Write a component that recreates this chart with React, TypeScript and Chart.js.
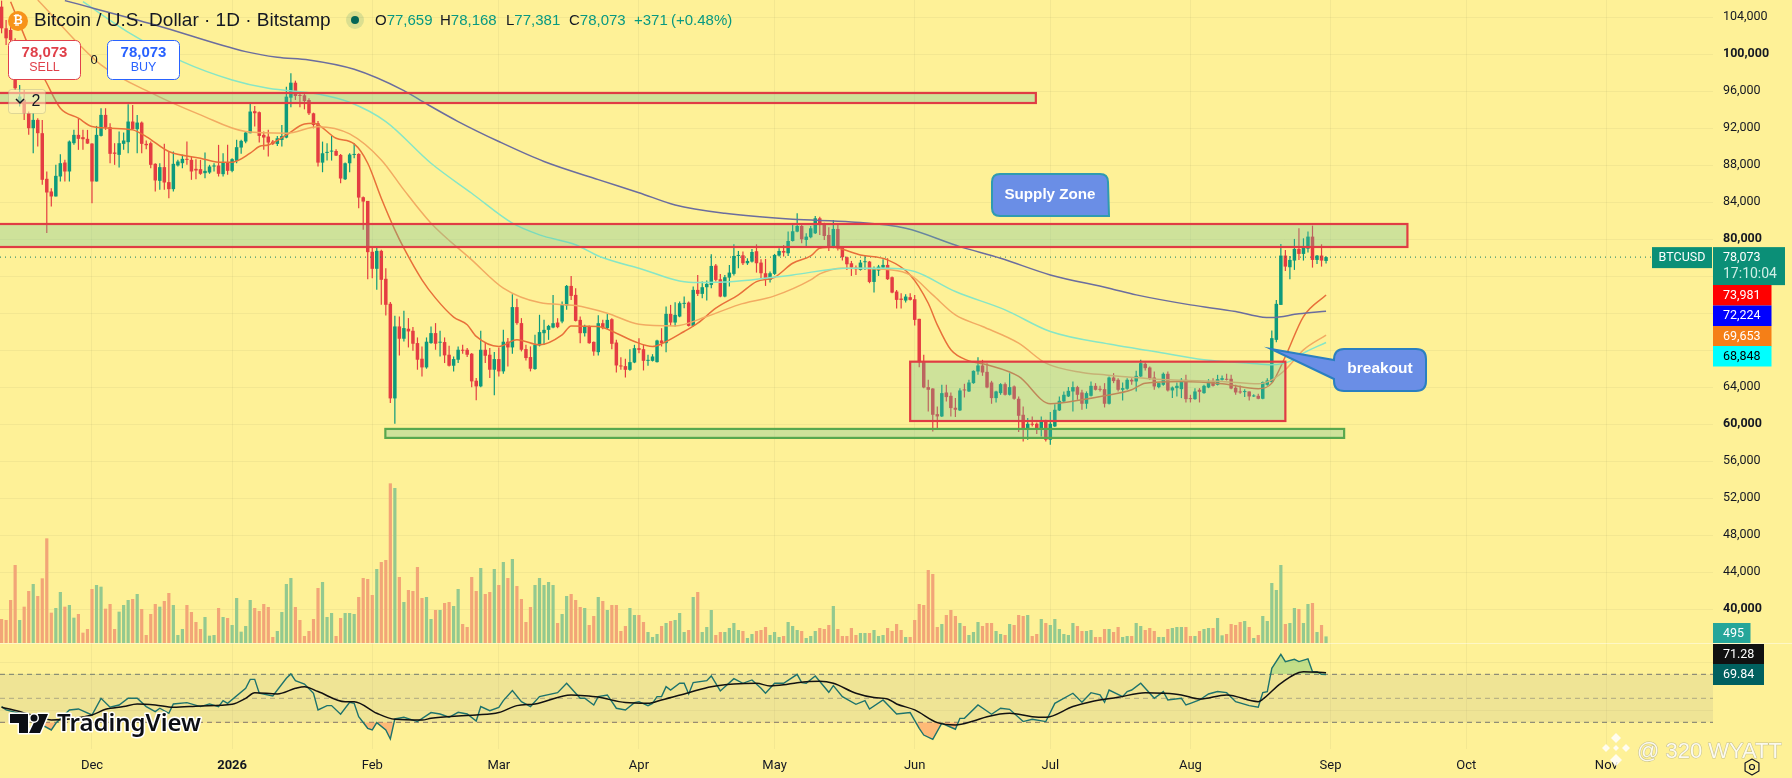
import React, { useEffect, useRef } from "react";
import { Chart, registerables } from "chart.js";

Chart.register(...registerables);

// Day numbers count from 1 Dec 2025 (day 0). Each candle is [open, high, low, close].
const firstDay = -20;
const novCandles = [
  [105150,105800,102270,102810],[102810,103710,101010,101730],[102630,103710,100470,101550],[101370,101730,96150,96330],
  [94710,96690,94350,95430],[95070,96150,92910,93630],[93630,93810,91290,92010],[92010,93630,89310,92910],
  [92910,93090,90030,91470],[91470,92910,85890,86430],[86540,87330,80670,85060],[85170,85530,83550,84630],
  [84630,88050,84630,86860],[86790,89200,86250,88230],[88300,88590,86250,87330],[87330,90680,86250,90570],
  [90390,91830,90210,91290],[91290,93090,89670,90860],[91040,91830,89670,90820],[90860,91830,90320,90350],
];
const decCandles = [
  [90350,90390,83910,86250],[86250,92260,86250,91290],[91180,94170,91110,93450],[93450,94170,91830,92080],
  [92120,92550,88230,89240],[89380,90390,88050,89240],[89130,91650,87760,90390],[90320,91540,89670,90680],
  [90500,94600,89310,92730],[92730,94530,91830,91900],[91900,93450,89310,92620],[92620,92730,89310,90320],
  [90320,90680,89740,90170],[90390,90570,87690,88050],[88160,88230,85170,86360],[86320,88230,85350,87800],
  [87800,90320,85350,86140],[86180,89490,84450,85420],[85420,89490,85170,88160],[87980,88590,87870,88410],
  [88230,89130,87690,88700],[88700,90570,88050,88590],[88590,88950,86430,87330],[87620,88660,86500,87440],
  [87580,88590,86970,87080],[87150,89380,86610,87400],[87220,88050,87080,87870],[87870,88230,87330,87980],
  [87980,90210,86790,87080],[87040,89310,86790,88300],[88300,90210,86970,87400],
];
const janCandles = [
  [87400,88770,87260,88660],[88480,90750,88230,89960],[89920,90750,89240,90640],[90570,91650,90390,91540],
  [91470,94640,91470,93810],[93850,94420,92190,93630],[93740,93810,90460,91180],[91290,91650,89670,91000],
  [91110,91830,88950,90460],[90560,90740,90200,90310],[90310,91170,90090,90920],[90740,92360,90020,91170],
  [90990,96500,90920,95420],[95310,97940,94270,96930],[96930,97150,95060,95490],[95570,95710,94270,95490],
  [95570,95710,94050,94950],[95060,95240,93440,93620],[93620,93690,92000,92360],[92540,92790,87860,88290],
  [88290,90560,87250,89300],[89340,90380,88510,89450],[89480,91170,88510,89550],[89550,89730,89010,89050],
  [89120,89230,86060,86570],[86490,88290,86420,88220],[88220,89300,87250,89160],[89120,90380,88760,89230],
  [89230,89300,83360,84510],[84550,84620,81020,84080],[84150,84150,75690,78610],
];
const febCandles = [
  [78650,79220,75800,76810],[76810,79220,74540,78750],[78750,78860,72920,75620],[75730,76880,71770,72920],
  [73030,73210,62300,62800],[62800,71730,60070,70580],[70580,71660,67450,69250],[69250,72270,68960,70400],
  [70330,71480,68310,70040],[70110,70510,67950,68710],[68780,69390,65900,66980],[67090,68420,65180,66150],
  [66150,69390,66010,68930],[68780,70580,68710,69860],[69860,70940,68060,68710],[68820,70110,67340,68890],
  [68890,69390,66620,67450],[67520,68500,66260,66330],[66330,67340,65720,67050],[66980,68420,66620,68060],
  [68060,68600,67630,67950],[68060,68240,67270,67520],[67630,67700,64000,64640],[64710,65000,62590,64100],
  [64100,70110,64000,68060],[68060,68890,66620,67410],[67520,68240,65000,65900],[65900,67810,63130,67050],
];
const marCandles = [
  [67050,68310,65180,65720],[65720,70220,65470,68930],[68930,69320,66260,68310],[68310,74070,67630,72670],
  [72670,73570,70760,70940],[70940,71480,67880,68060],[68130,68600,66910,67160],[67270,68420,65720,66010],
  [65970,69680,65900,68600],[68530,71840,68420,69970],[69850,71290,68590,70210],[70210,70750,69130,70640],
  [70460,73990,70390,70930],[71000,71470,70390,70500],[71110,73270,70930,72910],[72840,75070,72370,74960],
  [74960,76040,73450,73880],[73990,74710,71110,71180],[71290,71650,68770,69850],[69850,70750,69490,70570],
  [70570,70680,68700,68770],[68910,68950,67400,67870],[67800,71790,67440,70930],[70930,71290,70280,70390],
  [70390,72010,70280,71290],[71360,71470,68120,68700],[68840,69130,65600,66360],[66360,67260,65890,66250],
  [66290,67080,65060,65890],[65890,68120,65780,66720],[66680,68590,66610,68230],
];
const aprCandles = [
  [68230,69310,67690,68050],[68120,68590,65820,66860],[66860,67510,66320,66970],[66860,67580,66790,67330],
  [66720,69130,66680,69060],[69060,70390,68410,68770],[68770,72730,67800,71940],[71940,72910,70640,71000],
  [71000,73200,70570,71830],[71650,73270,71580,73090],[73020,73810,72550,73090],[73160,73270,70570,70640],
  [70640,74890,70570,74530],[74530,76150,73880,74100],[74100,75430,73630,74820],[74820,75540,73380,75180],
  [75070,78380,74710,77120],[77160,77340,75430,75610],[75680,76260,73740,73810],[73810,76150,73740,75900],
  [75860,77230,74890,76400],[76260,79460,76080,78200],[78200,78740,76870,78270],[78270,78670,77230,77410],
  [77410,77950,77230,77660],[77590,78960,77480,78630],[78710,79460,76400,77410],[77480,77840,75680,76330],
  [76330,77880,74960,75790],[75610,76510,75320,76330],
];
const mayCandles = [
  [76260,78420,76150,78310],[78240,79030,78130,78740],[78740,79390,78130,78560],[78490,80830,78200,79820],
  [79820,81620,79750,80870],[80830,82810,80760,81440],[81440,81730,79570,80000],[79930,80650,79280,80290],
  [80220,81440,80110,81190],[80650,82520,80580,82270],[82270,82450,80470,81660],[81730,81800,79930,80360],
  [80470,81300,78740,79140],[79140,82090,79030,81120],[81120,81550,78780,79030],[79140,79210,77700,78060],
  [78060,78130,76690,77300],[77410,77660,76040,76940],[76940,77160,76150,76760],[76690,77770,76620,77480],
  [77520,78200,76690,77630],[77590,77660,75250,75390],[75390,77050,74240,76800],[76620,77230,76040,77050],
  [76940,77840,76870,77230],[77230,77950,75610,75680],[75900,75970,74170,74240],[74350,74530,72510,73450],
  [73590,74170,72510,73450],[73380,74060,73160,73810],[73740,74170,73380,73450],
];
const junCandles = [
  [73520,73990,70680,71290],[71400,71400,66180,66720],[66720,67510,63910,63980],[64020,64810,61390,63730],
  [63870,63910,59230,61030],[61100,61930,59590,60850],[60850,64270,60780,63370],[63440,64270,62470,62940],
  [63080,63440,60850,61750],[61790,62830,60780,61570],[61500,63910,61430,63660],[63730,64380,62900,63660],
  [63550,64810,63480,64520],[64450,65820,64380,65780],[65710,67260,65350,66360],[66360,66970,65240,65600],
  [65670,66610,63910,63980],[64520,64700,62220,62830],[62830,63620,62360,63550],[63370,64450,63190,64340],
  [64340,64520,63120,63190],[63190,65530,63120,64020],[64090,64200,62650,62760],[62760,63010,59160,60920],
  [61030,61930,58150,59590],[59480,60670,58330,60060],[60060,60850,59770,59950],[60060,60200,58940,59410],
  [59410,60850,58690,60380],[60380,60490,58150,58330],
];
const julCandles = [
  [58330,61320,57790,60060],[59770,62180,59700,61570],[61500,63010,61430,62540],[62470,63550,62400,63190],
  [63010,64020,62940,63620],[63550,64630,61390,64020],[64020,64160,62650,63190],[63440,63730,61570,62220],
  [62220,63550,61680,63370],[63080,64630,63010,64160],[64160,64450,63660,63730],[63840,64160,63550,63730],
  [63800,64450,61820,62220],[62220,65170,62150,65060],[65060,65530,64450,64670],[64810,64990,63550,63730],
  [63730,64520,62580,63910],[63840,64990,63730,64810],[64810,64990,64270,64630],[64630,65780,63550,65240],
  [65170,66970,65100,66610],[66540,66680,65820,66070],[66140,66250,64810,64990],[65060,65710,63730,64090],
  [64020,64520,63910,64450],[64270,65600,64160,65460],[65460,65710,63550,63660],[63660,64090,62830,63980],
  [63910,64520,63010,64160],[63800,64990,62830,64810],[64810,65350,62360,62720],
];
const augCandles = [
  [62790,63190,62360,62720],[62720,63910,62650,63550],[63730,63910,62360,63510],[63370,64270,63300,64160],
  [63980,64880,63910,64630],[64630,64990,64090,64160],[64270,65350,64200,64880],[64810,65280,64740,64990],
  [64920,65460,64740,64810],[64920,65350,63800,63870],[63950,64270,63190,63440],[63550,64200,63300,63440],
  [63480,63800,62940,63550],[63550,63550,62580,63010],[63010,63260,62940,63120],[63080,63300,62720,62760],
  [62760,64630,62720,64560],[64270,64990,64160,64740],[64560,70140,64520,69310],[69130,73450,68880,73020],
  [72910,79500,72910,78240],[78240,78850,76580,77050],[76980,78200,75680,77770],[77700,80040,76690,78960],
  [78960,81190,77770,78420],[78420,80110,77700,79100],[78990,80830,78560,80290],[80290,81480,76940,77770],
  [77770,78310,77340,78240],[78240,79460,77050,77700],[77659,78168,77381,78073],
];

const novVolume = [1800,1725,3225,5850,1725,2725,3900,4425,3525,4850,7850,2275,2625,3825,2725,2850,1900,2175,775,1050];
const decVolume = [4050,4350,4225,2575,2925,1050,2350,2850,3225,3300,3675,2550,600,2175,2925,2725,3150,3750,2850,600,1050,2850,2325,1575,1050,1950,550,600,2625,1950,1875];
const janVolume = [1350,3375,850,1275,3225,2625,2400,2925,2700,450,900,2325,4425,4875,2700,1725,525,900,1800,4125,4575,1950,2250,525,1875,2250,2250,2175,3450,4875,4800];
const febVolume = [3600,5550,6075,6225,11975,11625,4950,3075,3975,3900,5700,3375,3450,1800,2475,2475,3000,3075,2775,4050,1425,1200,4950,3900,5625,3675,3825,5550];
const marVolume = [4350,6075,4875,6300,4275,3300,1575,2700,4350,4875,4350,4575,4350,1500,2175,3525,3675,3225,2700,2625,1350,2025,3450,3150,2475,2850,2850,900,1275,2625,2100];
const aprVolume = [2100,1575,825,450,675,1275,1500,1650,1725,2250,825,975,3450,3825,825,1200,2475,600,825,825,1125,1500,975,900,375,675,900,975,1200,600];
const mayVolume = [825,450,525,1575,1275,975,900,375,525,900,1125,1050,1350,2775,1050,525,525,1125,600,750,750,750,975,525,600,1125,900,1425,975,450,450];
const junVolume = [1725,2925,2850,5475,5175,1200,1425,2100,2475,2025,1500,1275,600,825,1575,1275,1500,1500,900,675,600,1425,1350,2100,2025,2100,525,675,1800,1500];
const julVolume = [1350,1800,1050,675,600,1500,1275,900,900,975,450,450,1050,1050,825,1200,450,525,525,1500,1275,975,1125,900,450,450,1050,1125,1200,1200,1200];
const augVolume = [525,525,900,1050,1125,1125,1875,575,675,1425,1350,1575,1650,1200,375,600,2025,1650,4500,3975,5850,1425,1500,2625,2550,1500,2925,3000,825,1350,495];

// Moving averages and RSI as [day, value] readings.
const ema20 = [[-18,105690],[-13,99750],[-10,96870],[-7,94170],[-3,93090],[0,92190],[4,92010],[9,91830],[12,91110],[17,89490],[24,88770],[28,88340],[31,88340],[35,89310],[37,90030],[39,90200],[43,91280],[47,92470],[49,92540],[54,90920],[58,90310],[61,88220],[64,84440],[67,81020],[69,79040],[73,75620],[76,73640],[80,71590],[83,70760],[85,69500],[90,68420],[94,69140],[99,68590],[104,69670],[106,70640],[112,70570],[116,69850],[120,68950],[124,68410],[126,68700],[131,70030],[134,70930],[138,72550],[143,73990],[147,75430],[151,75900],[155,77410],[159,78200],[161,79030],[164,79140],[166,78920],[170,78310],[176,77770],[181,76150],[185,73090],[187,70750],[190,68050],[194,66860],[198,66430],[205,65170],[212,62220],[219,62650],[224,63080],[230,63730],[233,64450],[241,64630],[250,64380],[258,63840],[261,64450],[264,67330],[268,71650],[273,73981]];
const ema50 = [[-12,105870],[2,98850],[14,95610],[24,93450],[34,91650],[43,91470],[50,92180],[57,91390],[64,88580],[69,85340],[75,81740],[84,77780],[91,74720],[99,73160],[107,72840],[114,72010],[121,70820],[129,70640],[136,71650],[143,72910],[151,73880],[159,75610],[161,76260],[166,76870],[177,76690],[181,76150],[186,73990],[191,71830],[197,70570],[205,68770],[211,66610],[219,65600],[224,65350],[238,64810],[250,64630],[258,64380],[261,64810],[264,65890],[268,68050],[273,69653]];
const ema100 = [[-2,105690],[9,102090],[20,99210],[31,97230],[39,96320],[50,95710],[57,94810],[65,92720],[75,88220],[84,84980],[93,81740],[99,80480],[107,79410],[112,78200],[121,76870],[133,75320],[142,75430],[155,76150],[167,76870],[176,76870],[182,76510],[191,74350],[202,72370],[212,70030],[226,68590],[235,67870],[246,66970],[256,66610],[261,66430],[265,66800],[268,67700],[273,68848]];
const ema200 = [[-6,105800],[14,103170],[34,100290],[41,99680],[48,99390],[58,98380],[69,96080],[74,94640],[81,92730],[90,90570],[100,88410],[112,86450],[121,85040],[129,83710],[140,82810],[155,82160],[168,81880],[180,81190],[192,79210],[201,77950],[212,76150],[225,74710],[231,73990],[243,72910],[253,72190],[259,71580],[261,71540],[267,71940],[273,72224]];
const rsiLine = [[-20,43.1],[-19,40.3],[-16,37.5],[-13,31.9],[-9,23.6],[-8,29.2],[-5,40.3],[-3,41.1],[0,36.1],[2,50],[4,42.5],[6,44.4],[8,50],[10,50],[12,43.1],[14,38.9],[15,41.7],[17,37.5],[18,45.3],[21,46.4],[24,43.1],[26,45.3],[28,43.1],[29,48.1],[30,45.8],[34,58.3],[35,65.8],[36,65.8],[37,54.2],[40,51.9],[43,66.7],[44,70.3],[45,64.7],[47,61.9],[49,54.2],[50,40.3],[52,43.9],[53,43.9],[55,36.7],[57,46.7],[58,45.8],[59,34.7],[61,25],[62,23.6],[63,29.7],[65,23.6],[66,16.1],[67,32.8],[69,34.2],[72,30.6],[75,38.1],[77,36.9],[79,34.2],[81,38.3],[83,36.9],[85,31.1],[86,43.1],[88,39.7],[90,42.5],[91,48.1],[93,56.4],[95,47.2],[97,43.1],[99,51.4],[103,54.7],[105,62.5],[106,58.3],[108,50],[109,50],[111,44.4],[112,51.4],[114,52.8],[116,41.7],[118,40.3],[120,46.4],[121,47.2],[123,43.9],[124,45.8],[125,51.4],[126,51.4],[127,59.7],[128,56.9],[130,62.5],[131,62.5],[132,53.6],[133,63.1],[136,64.7],[137,68.6],[139,56.1],[142,66.4],[144,62.5],[146,65.3],[148,58.3],[149,54.2],[151,62.5],[153,62.5],[156,70],[157,63.1],[158,62.5],[160,68.6],[163,55],[164,60.6],[166,51.4],[169,45],[171,48.1],[172,41.1],[175,48.6],[178,36.9],[181,38.1],[183,25],[184,19.4],[186,15.8],[188,29.2],[191,24.2],[192,33.3],[193,33.3],[196,44.4],[199,36.7],[201,41.7],[203,40.8],[206,30.6],[208,32.5],[211,30.6],[213,45.8],[217,54.2],[219,46.7],[221,54.7],[223,52.8],[224,46.7],[225,56.9],[228,51.4],[229,55.6],[230,56.9],[232,62.5],[235,50],[237,55.6],[238,48.6],[241,50],[242,44.4],[243,45.8],[245,48.6],[247,53.6],[249,55.6],[251,54.7],[253,47.2],[256,43.9],[258,42.5],[259,54.7],[260,55.6],[261,75],[263,86.7],[264,80.6],[266,82.5],[267,80.6],[269,82.8],[270,72.2],[271,72.2],[272,70],[273,69.84]];
const rsiAverage = [[-20,42.5],[-18,40.8],[-12,34.7],[-9,32],[0,36.1],[3,40.8],[7,43.1],[10,45.3],[14,44.4],[18,42.5],[24,43.6],[31,45],[34,50],[36,54.7],[41,53.6],[45,58.3],[47,59.7],[50,55.6],[56,47.2],[58,47.2],[63,37.5],[67,32.5],[73,31.9],[75,33.3],[81,35.3],[85,36.1],[90,38.1],[94,43.9],[98,45.3],[106,52.8],[109,52.2],[112,51],[118,46.4],[123,45.8],[126,48.6],[132,54.7],[137,59.7],[142,61.9],[147,62.5],[150,60.3],[153,61.2],[156,63],[161,64.2],[164,62.5],[169,54.2],[173,50.6],[176,49.4],[178,45.3],[182,40.3],[187,29.7],[191,27.8],[195,31.1],[198,34.7],[203,37.5],[208,34.7],[211,34.2],[217,43.1],[221,47.2],[227,50.8],[233,54.7],[237,54.2],[241,52.8],[245,49.4],[251,52.8],[258,47.2],[259,49.2],[263,62.5],[268,72.2],[273,71.28]];

const priceTicks = [40000,44000,48000,52000,56000,60000,64000,68000,72000,76000,80000,84000,88000,92000,96000,100000,104000];
const boldPrices = [40000,60000,80000,100000];
const rsiTicks = [40,80];
const timeTicks = [0,31,62,90,121,151,182,212,243,274,304,335];
const timeLabels = ["Dec","2026","Feb","Mar","Apr","May","Jun","Jul","Aug","Sep","Oct","Nov"];
const lastPrice = 78073;
const rsiLevels = [70,50,30];

// Drawn zones: [first day, last day, top price, bottom price]
const redZones = [[-21,208.8,95816,94735],[-21,291,81654,79168],[181,264,66770,60357]];
const greenZones = [[64.9,277,59500,58530]];

const FONT = '"Liberation Sans", "Noto Sans", sans-serif';
const AXIS_FONT = 'Roboto, "Liberation Sans", sans-serif';
const BG = "#fef197";
const UP = "#0d9a7c";
const DOWN = "#e43d42";
const VOL_UP = "#93c98f";
const VOL_DOWN = "#f2a577";
const GRID = "rgba(110,110,80,0.08)";
const X_MIN = -20.35;
const X_MAX = 358.6;

const candles = [...novCandles,...decCandles,...janCandles,...febCandles,...marCandles,...aprCandles,...mayCandles,...junCandles,...julCandles,...augCandles];
const volumes = [...novVolume,...decVolume,...janVolume,...febVolume,...marVolume,...aprVolume,...mayVolume,...junVolume,...julVolume,...augVolume];

const toXY = (list: number[][]) => list.map(([x, y]) => ({ x, y }));
const dir = (i: number) => candles[i][3] >= candles[i][0];

function roundRect(ctx: CanvasRenderingContext2D, x: number, y: number, w: number, h: number, r: number) {
  ctx.beginPath();
  ctx.roundRect(x, y, w, h, r);
}

function text(ctx: CanvasRenderingContext2D, s: string, x: number, y: number, font: string, color: string, align: CanvasTextAlign = "left") {
  ctx.font = font;
  ctx.fillStyle = color;
  ctx.textAlign = align;
  ctx.textBaseline = "middle";
  ctx.fillText(s, x, y);
}

const zonesPlugin = {
  id: "zones",
  afterDatasetsDraw(chart: any) {
    const { ctx, scales } = chart;
    const { x, y } = scales;
    const draw = (z: number[], stroke: string) => {
      const l = x.getPixelForValue(z[0]);
      const r = x.getPixelForValue(z[1]);
      const t = y.getPixelForValue(z[2]);
      const b = y.getPixelForValue(z[3]);
      ctx.fillStyle = "rgba(97,191,161,0.30)";
      ctx.fillRect(l, t, r - l, b - t);
      ctx.strokeStyle = stroke;
      ctx.lineWidth = 2.2;
      ctx.strokeRect(l, t, r - l, b - t);
    };
    ctx.save();
    redZones.forEach((z) => draw(z, "#e03c44"));
    greenZones.forEach((z) => draw(z, "#58a84e"));
    ctx.restore();
  },
};

const overlayPlugin = {
  id: "overlay",
  afterDraw(chart: any) {
    const { ctx, scales } = chart;
    const py = scales.y.getPixelForValue(lastPrice);
    ctx.save();

    // pane separator
    ctx.fillStyle = "rgba(255,255,255,0.45)";
    ctx.fillRect(0, 643, 1792, 1);

    // callouts
    const blue = "#6a8ee6";
    const edge = "#2f9bb0";
    ctx.lineWidth = 2;
    ctx.fillStyle = blue;
    ctx.strokeStyle = edge;
    ctx.beginPath();
    ctx.moveTo(1000, 174);
    ctx.lineTo(1100, 174);
    ctx.quadraticCurveTo(1108, 174, 1108, 182);
    ctx.lineTo(1109, 216);
    ctx.lineTo(1000, 216);
    ctx.quadraticCurveTo(992, 216, 992, 208);
    ctx.lineTo(992, 182);
    ctx.quadraticCurveTo(992, 174, 1000, 174);
    ctx.closePath();
    ctx.fill();
    ctx.stroke();
    text(ctx, "Supply Zone", 1050, 195, `700 15.2px ${FONT}`, "#ffffff", "center");

    ctx.fillStyle = blue;
    ctx.strokeStyle = "#2a7fc0";
    ctx.beginPath();
    ctx.moveTo(1344, 349);
    ctx.lineTo(1416, 349);
    ctx.quadraticCurveTo(1426, 349, 1426, 359);
    ctx.lineTo(1426, 381);
    ctx.quadraticCurveTo(1426, 391, 1416, 391);
    ctx.lineTo(1344, 391);
    ctx.quadraticCurveTo(1334, 391, 1334, 381);
    ctx.lineTo(1334, 379);
    ctx.lineTo(1271, 349);
    ctx.lineTo(1334, 360);
    ctx.quadraticCurveTo(1334, 349, 1344, 349);
    ctx.closePath();
    ctx.fill();
    ctx.stroke();
    text(ctx, "breakout", 1380, 369, `700 15.5px ${FONT}`, "#ffffff", "center");

    // header
    ctx.fillStyle = "#f7931a";
    ctx.beginPath();
    ctx.arc(18, 21, 10, 0, Math.PI * 2);
    ctx.fill();
    text(ctx, "₿", 18, 21, `700 12px "DejaVu Sans", sans-serif`, "#ffffff", "center");
    text(ctx, "Bitcoin / U.S. Dollar · 1D · Bitstamp", 34, 21, `19px ${FONT}`, "#131722");
    ctx.fillStyle = "rgba(8,110,100,0.14)";
    ctx.beginPath();
    ctx.arc(355, 20, 9, 0, Math.PI * 2);
    ctx.fill();
    ctx.fillStyle = "#056656";
    ctx.beginPath();
    ctx.arc(355, 20, 4, 0, Math.PI * 2);
    ctx.fill();
    const ohlc: [string, string, number][] = [["O", "77,659", 375], ["H", "78,168", 440], ["L", "77,381", 506], ["C", "78,073", 569]];
    ohlc.forEach(([k, v, xp]) => {
      text(ctx, k, xp, 21, `15px ${FONT}`, "#131722");
      const w = ctx.measureText(k).width;
      text(ctx, v, xp + w, 21, `15px ${FONT}`, "#089981");
    });
    text(ctx, "+371", 634, 21, `15px ${FONT}`, "#089981");
    text(ctx, "(+0.48%)", 671, 21, `15px ${FONT}`, "#089981");

    // order buttons
    ctx.fillStyle = "#ffffff";
    ctx.strokeStyle = "#e0404a";
    ctx.lineWidth = 1;
    roundRect(ctx, 8.5, 40.5, 72, 39, 5);
    ctx.fill();
    ctx.stroke();
    text(ctx, "78,073", 44.5, 53, `700 15px ${FONT}`, "#e0404a", "center");
    text(ctx, "SELL", 44.5, 68, `12.5px ${FONT}`, "#e0404a", "center");
    text(ctx, "0", 94, 60, `13px ${FONT}`, "#131722", "center");
    ctx.fillStyle = "#ffffff";
    ctx.strokeStyle = "#2962ff";
    roundRect(ctx, 107.5, 40.5, 72, 39, 5);
    ctx.fill();
    ctx.stroke();
    text(ctx, "78,073", 143.5, 53, `700 15px ${FONT}`, "#2962ff", "center");
    text(ctx, "BUY", 143.5, 68, `12.5px ${FONT}`, "#2962ff", "center");

    // collapsed legend toggle
    ctx.fillStyle = "rgba(255,245,190,0.55)";
    ctx.strokeStyle = "rgba(160,160,130,0.35)";
    roundRect(ctx, 8.5, 89.5, 37, 24, 3);
    ctx.fill();
    ctx.stroke();
    ctx.strokeStyle = "#131722";
    ctx.lineWidth = 1.5;
    ctx.beginPath();
    ctx.moveTo(16, 99);
    ctx.lineTo(20, 103);
    ctx.lineTo(24, 99);
    ctx.stroke();
    text(ctx, "2", 36, 102, `16px ${FONT}`, "#131722", "center");

    // axis tags
    const tag = (x: number, y: number, w: number, h: number, fill: string) => {
      ctx.fillStyle = fill;
      ctx.fillRect(x, y, w, h);
    };
    const TAG = `12.5px ${AXIS_FONT}`;
    tag(1652, py - 10, 60, 21, "#0b8f77");
    text(ctx, "BTCUSD", 1682, py + 0.5, TAG, "#ffffff", "center");
    tag(1713, py - 10, 72, 38, "#0b8f77");
    text(ctx, "78,073", 1723, py + 0.5, TAG, "#ffffff");
    text(ctx, "17:10:04", 1723, py + 17, `14px ${AXIS_FONT}`, "#cfeee6");
    const rows: [string, string, string, number][] = [["73,981", "#ff0000", "#ffffff", 285], ["72,224", "#0000ff", "#ffffff", 305.5], ["69,653", "#f57f17", "#ffffff", 326], ["68,848", "#00ffff", "#000000", 346]];
    rows.forEach(([s, f, c, y]) => {
      tag(1713, y, 58.5, 20.5, f);
      text(ctx, s, 1723, y + 10.5, TAG, c);
    });
    tag(1713, 623, 37.5, 20, "#26a69a");
    text(ctx, "495", 1723, 633.5, TAG, "#ffffff");
    tag(1713, 644, 51, 20, "#111111");
    text(ctx, "71.28", 1723, 654.5, TAG, "#ffffff");
    tag(1713, 664, 51, 21, "#00605f");
    text(ctx, "69.84", 1723, 675, TAG, "#ffffff");

    // TradingView mark
    ctx.lineJoin = "round";
    ctx.strokeStyle = "#ffffff";
    ctx.fillStyle = "#0c0e14";
    ctx.lineWidth = 3;
    const logo = new Path2D();
    logo.moveTo(10, 714);
    logo.lineTo(28, 714);
    logo.lineTo(28, 733);
    logo.lineTo(19, 733);
    logo.lineTo(19, 723);
    logo.lineTo(10, 723);
    logo.closePath();
    logo.moveTo(38, 714);
    logo.lineTo(48, 714);
    logo.lineTo(40, 733);
    logo.lineTo(29, 733);
    logo.closePath();
    ctx.stroke(logo);
    ctx.fill(logo);
    ctx.beginPath();
    ctx.arc(34, 718, 3.5, 0, Math.PI * 2);
    ctx.stroke();
    ctx.fill();
    ctx.font = `600 24px "Noto Sans", sans-serif`;
    ctx.textAlign = "left";
    ctx.textBaseline = "middle";
    ctx.strokeText("TradingView", 57, 724);
    ctx.fillText("TradingView", 57, 724);

    // settings hexagon
    ctx.strokeStyle = "#131722";
    ctx.lineWidth = 1.2;
    ctx.beginPath();
    for (let i = 0; i < 6; i++) {
      const a = Math.PI / 6 + (i * Math.PI) / 3;
      const hx = 1752 + 8 * Math.cos(a);
      const hy = 767 + 8 * Math.sin(a);
      if (i === 0) ctx.moveTo(hx, hy);
      else ctx.lineTo(hx, hy);
    }
    ctx.closePath();
    ctx.stroke();
    ctx.beginPath();
    ctx.arc(1752, 767, 2.5, 0, Math.PI * 2);
    ctx.stroke();

    // creator watermark
    ctx.fillStyle = "rgba(255,255,255,0.85)";
    const diamonds = [[1616, 738, 5], [1606, 748, 4], [1626, 748, 4], [1616, 748, 3], [1616, 760, 6]];
    diamonds.forEach(([cx, cy, r]) => {
      ctx.beginPath();
      ctx.moveTo(cx, cy - r);
      ctx.lineTo(cx + r, cy);
      ctx.lineTo(cx, cy + r);
      ctx.lineTo(cx - r, cy);
      ctx.closePath();
      ctx.fill();
    });
    ctx.strokeStyle = "rgba(150,150,130,0.55)";
    ctx.lineWidth = 1;
    ctx.font = `22px ${FONT}`;
    ctx.textAlign = "left";
    ctx.textBaseline = "middle";
    ctx.strokeText("@ 320 WYATT", 1637, 752);
    ctx.fillText("@ 320 WYATT", 1637, 752);
    ctx.restore();
  },
};

export default function App() {
  const ref = useRef<HTMLCanvasElement | null>(null);
  useEffect(() => {
    if (!ref.current) return;
    const clearPadding = (s: any) => {
      s.paddingTop = 0;
      s.paddingBottom = 0;
      s.paddingLeft = 0;
      s.paddingRight = 0;
    };
    const line = (data: any[], color: string, width: number, extra: any = {}) => ({
      type: "line",
      data,
      borderColor: color,
      borderWidth: width,
      pointRadius: 0,
      xAxisID: "x",
      yAxisID: "y",
      order: 1,
      ...extra,
    });
    const levelLine = (v: number, color: string, extra: any = {}) =>
      line(toXY([[X_MIN, v], [X_MAX, v]]), color, 1, { yAxisID: "yRsi", borderDash: [5, 4], order: 6, ...extra });
    const chart = new Chart(ref.current, {
      type: "bar",
      data: {
        datasets: [
          {
            type: "bar",
            data: volumes.map((v, i) => ({ x: firstDay + i, y: v })),
            backgroundColor: volumes.map((_, i) => (dir(i) ? VOL_UP : VOL_DOWN)),
            barThickness: 3.2,
            grouped: false,
            inflateAmount: 0,
            xAxisID: "x",
            yAxisID: "yVol",
            order: 8,
          },
          {
            type: "bar",
            data: candles.map((c, i) => ({ x: firstDay + i, y: [c[2], c[1]] })),
            backgroundColor: candles.map((_, i) => (dir(i) ? UP : DOWN)),
            barThickness: 1.2,
            grouped: false,
            inflateAmount: 0,
            xAxisID: "x",
            yAxisID: "y",
            order: 5,
          },
          {
            type: "bar",
            data: candles.map((c, i) => ({ x: firstDay + i, y: [c[0], c[3]] })),
            backgroundColor: candles.map((_, i) => (dir(i) ? UP : DOWN)),
            barThickness: 3.5,
            minBarLength: 1,
            grouped: false,
            inflateAmount: 0,
            xAxisID: "x",
            yAxisID: "y",
            order: 4,
          },
          line(toXY(ema200), "#6b6d9e", 1.5, { cubicInterpolationMode: "monotone" }),
          line(toXY(ema100), "#86e6c6", 1.5, { cubicInterpolationMode: "monotone" }),
          line(toXY(ema50), "#f2ab62", 1.5, { cubicInterpolationMode: "monotone" }),
          line(toXY(ema20), "#e8703a", 1.5, { cubicInterpolationMode: "monotone" }),
          line(toXY([[X_MIN, lastPrice], [X_MAX, lastPrice]]), "#0f7f68", 1, { borderDash: [1, 4], order: 3 }),
          levelLine(rsiLevels[0], "#77786f", { fill: { value: rsiLevels[2] }, backgroundColor: "rgba(120,120,140,0.11)" }),
          levelLine(rsiLevels[1], "rgba(120,120,110,0.55)"),
          levelLine(rsiLevels[2], "#77786f"),
          line(toXY(rsiLine), "rgba(0,0,0,0)", 0, {
            yAxisID: "yRsi",
            order: 3,
            fill: { target: { value: rsiLevels[0] }, above: "rgba(90,190,110,0.35)", below: "rgba(0,0,0,0)" },
          }),
          line(toXY(rsiLine), "rgba(0,0,0,0)", 0, {
            yAxisID: "yRsi",
            order: 3,
            fill: { target: { value: rsiLevels[2] }, above: "rgba(0,0,0,0)", below: "rgba(255,120,80,0.45)" },
          }),
          line(toXY(rsiLine), "#1d736c", 1.4, { yAxisID: "yRsi", order: 2 }),
          line(toXY(rsiAverage), "#111111", 1.5, { yAxisID: "yRsi", order: 1, cubicInterpolationMode: "monotone" }),
        ] as any,
      },
      options: {
        responsive: false,
        animation: false,
        devicePixelRatio: 1,
        events: [],
        layout: { padding: 0 },
        plugins: { legend: { display: false }, tooltip: { enabled: false } },
        scales: {
          x: {
            type: "linear",
            offset: false,
            min: X_MIN,
            max: X_MAX,
            border: { display: false },
            grid: { offset: false, color: GRID, drawTicks: false },
            afterBuildTicks: (s: any) => {
              s.ticks = timeTicks.map((value) => ({ value }));
            },
            afterFit: (s: any) => {
              s.height = 29;
              clearPadding(s);
            },
            ticks: {
              autoSkip: false,
              maxRotation: 0,
              padding: 9,
              color: "#131722",
              font: (c: any) => ({ family: AXIS_FONT, size: 13, weight: c.tick && c.tick.value === 31 ? "bold" : "normal" }),
              callback: (v: any) => timeLabels[timeTicks.indexOf(v)] ?? "",
            },
          },
          y: {
            type: "linear",
            position: "right",
            weight: 1,
            min: 24897,
            max: 105870,
            border: { display: false },
            grid: { color: GRID, drawTicks: false },
            afterBuildTicks: (s: any) => {
              s.ticks = priceTicks.map((value) => ({ value }));
            },
            afterFit: (s: any) => {
              s.width = 79;
              clearPadding(s);
            },
            ticks: {
              autoSkip: false,
              padding: 10,
              color: "#131722",
              font: (c: any) => ({ family: AXIS_FONT, size: 12.5, weight: c.tick && boldPrices.includes(c.tick.value) ? "bold" : "normal" }),
              callback: (v: any) => Number(v).toLocaleString("en-US"),
            },
          },
          yVol: {
            type: "linear",
            display: false,
            min: -7950,
            max: 48225,
            grid: { display: false },
          },
          yRsi: {
            type: "linear",
            position: "right",
            weight: 0,
            min: 7.75,
            max: 631.9,
            border: { display: false },
            grid: { color: GRID, drawTicks: false },
            afterBuildTicks: (s: any) => {
              s.ticks = rsiTicks.map((value) => ({ value }));
            },
            afterFit: (s: any) => {
              s.width = 0;
              clearPadding(s);
            },
            ticks: {
              autoSkip: false,
              padding: 10,
              color: "#131722",
              font: { family: AXIS_FONT, size: 12.5 },
              callback: (v: any) => (v === 40 ? "40.00" : ""),
            },
          },
        },
      } as any,
      plugins: [zonesPlugin, overlayPlugin],
    });
    return () => chart.destroy();
  }, []);
  return (
    <canvas
      ref={ref}
      width={1792}
      height={778}
      style={{ position: "fixed", left: 0, top: 0, display: "block", width: 1792, height: 778, background: BG }}
    />
  );
}
